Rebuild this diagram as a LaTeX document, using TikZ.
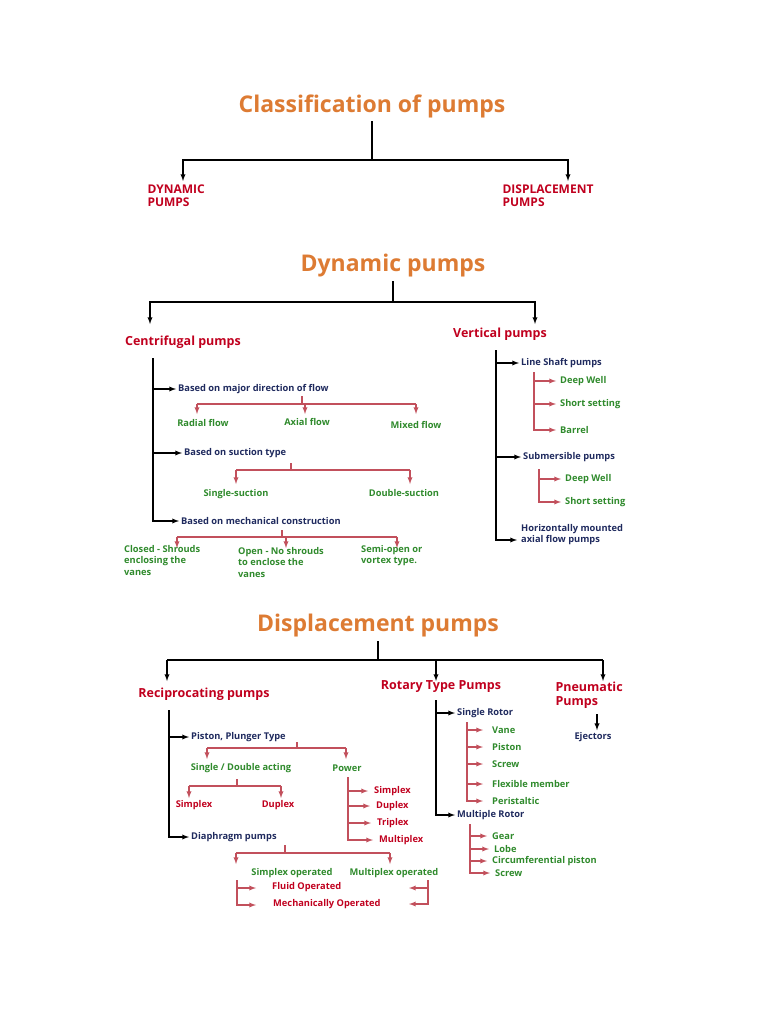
\documentclass[tikz,border=0pt]{standalone}
\usepackage{fontspec}
\setmainfont{Open Sans}
\usetikzlibrary{arrows}
\definecolor{ttlorange}{HTML}{DD7B33}
\definecolor{hdred}{HTML}{C0001E}
\definecolor{navy}{HTML}{1F2A5E}
\definecolor{leaf}{HTML}{2F8A2C}
\definecolor{arrred}{HTML}{C2505C}
\tikzset{
  ttl/.style={font=\fontsize{23}{26}\selectfont\bfseries, text=ttlorange},
  hd/.style={font=\fontsize{12.5}{14}\selectfont\bfseries, text=hdred, align=left},
  nv/.style={font=\fontsize{9.3}{11.5}\selectfont\bfseries, text=navy, align=left, inner sep=2pt},
  gr/.style={font=\fontsize{9.3}{11.5}\selectfont\bfseries, text=leaf, align=left, inner sep=2pt},
  rd/.style={font=\fontsize{9.3}{11.5}\selectfont\bfseries, text=hdred, inner sep=2pt},
  blk/.style={line width=1.3pt, -latex, black},
  bl/.style={line width=1.3pt, black},
  rarr/.style={line width=1.3pt, -latex, arrred},
  rl/.style={line width=1.3pt, arrred}
}
\begin{document}
\begin{tikzpicture}[x=1pt,y=-1pt]
\useasboundingbox (0,0) rectangle (768,1024);

% classification
\node[ttl] (cls) at (372,106) {Classification of pumps};
\node[hd, anchor=north west, font=\fontsize{12}{13}\selectfont\bfseries] (dyn) at (144,181) {DYNAMIC\\PUMPS};
\node[hd, anchor=north west, font=\fontsize{12}{13}\selectfont\bfseries] (dsp) at (499,181) {DISPLACEMENT\\PUMPS};
\coordinate (c0) at (372,160);
\draw[bl] (cls.south) -- (c0);
\draw[blk] (c0) -| (183,181);
\draw[blk] (c0) -| (568,181);

% dynamic pumps
\node[ttl] (dp) at (393,266) {Dynamic pumps};
\node[hd] (cf) at (183,342) {Centrifugal pumps};
\node[hd] (vp) at (500,334) {Vertical pumps};
\coordinate (c1) at (393,302);
\draw[bl] (dp.south) -- (c1);
\draw[blk] (c1) -| (150,324);
\draw[blk] (c1) -| (535,324);

% centrifugal
\node[nv, anchor=west] (b1) at (176,389) {Based on major direction of flow};
\node[nv, anchor=west] (b2) at (182,453) {Based on suction type};
\node[nv, anchor=west] (b3) at (179,521) {Based on mechanical construction};
\coordinate (ct) at (153,358);
\draw[bl] (ct) -- (153,521);
\foreach \n in {b1,b2,b3} \draw[blk] (ct) |- (\n.west);

\node[gr] (rf) at (203,423) {Radial flow};
\node[gr] (af) at (307,422) {Axial flow};
\node[gr] (mf) at (416,425) {Mixed flow};
\draw[rl] (302,396) -- (302,404);
\draw[rl] (197,404) -- (416,404);
\foreach \x in {197,305,416} \draw[rarr] (\x,404) -- (\x,414);

\node[gr] (ss) at (236,494) {Single-suction};
\node[gr] (ds) at (404,493) {Double-suction};
\draw[rl] (291,463) -- (291,470);
\draw[rl] (236,470) -- (410,470);
\foreach \x in {236,410} \draw[rarr] (\x,470) -- (\x,484);

\node[gr, anchor=north west] (cl) at (122,543) {Closed - Shrouds\\enclosing the\\vanes};
\node[gr, anchor=north west] (op) at (236,545) {Open - No shrouds\\to enclose the\\vanes};
\node[gr, anchor=north west] (so) at (359,543) {Semi-open or\\vortex type.};
\draw[rl] (282,530) -- (282,537);
\draw[rl] (177,537) -- (397,537);
\foreach \x in {177,286,397} \draw[rarr] (\x,537) -- (\x,548);

% vertical
\node[nv, anchor=west] (ls) at (519,363) {Line Shaft pumps};
\node[nv, anchor=west] (sb) at (521,457) {Submersible pumps};
\node[nv, anchor=north west] (hz) at (519,522) {Horizontally mounted\\axial flow pumps};
\coordinate (vt) at (496,350);
\draw[bl] (vt) -- (496,540);
\draw[blk] (vt) |- (ls.west);
\draw[blk] (vt) |- (sb.west);
\draw[blk] (vt) |- (517,540);

\node[gr, anchor=west] (dw1) at (558,381) {Deep Well};
\node[gr, anchor=west] (st1) at (558,404) {Short setting};
\node[gr, anchor=west] (br) at (558,430) {Barrel};
\coordinate (lt) at (534,372);
\foreach \n in {dw1,st1,br} \draw[rarr] (lt) |- ([xshift=-2pt]\n.west);

\node[gr, anchor=west] (dw2) at (563,479) {Deep Well};
\node[gr, anchor=west] (st2) at (563,502) {Short setting};
\coordinate (st) at (539,469);
\foreach \n in {dw2,st2} \draw[rarr] (st) |- ([xshift=-2pt]\n.west);

% displacement pumps
\node[ttl] (xp) at (378,626) {Displacement pumps};
\node[hd] (rc) at (204,694) {Reciprocating pumps};
\node[hd] (rt) at (441,687) {Rotary Type Pumps};
\node[hd, anchor=north west] (pn) at (552,678) {Pneumatic\\Pumps};
\node[nv] (ej) at (593,737) {Ejectors};
\coordinate (c2) at (378,660);
\coordinate (ejt) at (597,714);
\draw[bl] (xp.south) -- (c2);
\draw[blk] (167,660) -- (167,681);
\draw[bl] (167,660) -- (603,660);
\draw[blk] (436,660) -- (436,681);
\draw[blk] (603,660) -- (603,681);
\draw[blk] (ejt) -- (ejt |- ej.north);

% reciprocating
\node[nv, anchor=west] (pp) at (189,737) {Piston, Plunger Type};
\node[nv, anchor=west] (dg) at (189,837) {Diaphragm pumps};
\coordinate (rct) at (169,710);
\draw[blk] (rct) |- (pp.west);
\draw[blk] (rct) |- (dg.west);

\node[gr] (sd) at (241,768) {Single / Double acting};
\node[gr] (pw) at (347,768) {Power};
\draw[rl] (297,742) -- (297,748);
\draw[rl] (207,748) -- (346,748);
\foreach \x in {207,346} \draw[rarr] (\x,748) -- (\x,759);

\node[rd] (sx1) at (194,805) {Simplex};
\node[rd] (dx1) at (278,805) {Duplex};
\draw[rl] (237,779) -- (237,786);
\draw[rl] (189,786) -- (281,786);
\foreach \x in {189,281} \draw[rarr] (\x,786) -- (\x,798);

\node[rd, anchor=west] (sx2) at (372,791) {Simplex};
\node[rd, anchor=west] (dx2) at (374,806) {Duplex};
\node[rd, anchor=west] (tx) at (375,823) {Triplex};
\node[rd, anchor=west] (mx) at (377,840) {Multiplex};
\coordinate (pwt) at (348,777);
\foreach \n in {sx2,dx2,tx,mx} \draw[rarr] (pwt) |- ([xshift=-4pt]\n.west);

\node[gr] (so1) at (292,873) {Simplex operated};
\node[gr] (mo) at (394,873) {Multiplex operated};
\draw[rl] (285,845) -- (285,853);
\draw[rl] (236,853) -- (390,853);
\foreach \x in {236,390} \draw[rarr] (\x,853) -- (\x,864);

\node[rd, anchor=west] (fo) at (270,887) {Fluid Operated};
\node[rd, anchor=west] (mo2) at (271,904) {Mechanically Operated};
\coordinate (sot) at (237,880);
\coordinate (mot) at (428,880);
\draw[rarr] (sot) |- (256,888);
\draw[rarr] (sot) |- (256,905);
\draw[rarr] (mot) |- (409,888);
\draw[rarr] (mot) |- (409,904);

% rotary
\node[nv, anchor=west] (sr) at (455,713) {Single Rotor};
\node[nv, anchor=west] (mr) at (455,815) {Multiple Rotor};
\coordinate (rtt) at (436,700);
\draw[blk] (rtt) |- (sr.west);
\draw[blk] (rtt) |- (mr.west);

\coordinate (srt) at (467,722);
\foreach \t/\y in {Vane/730,Piston/747,Screw/764,Flexible member/784,Peristaltic/801}
  \node[gr, anchor=west] (s\y) at (490,\y) {\t};
\foreach \y in {730,747,764,784,801} \draw[rarr] (srt) |- (483,\y);

\coordinate (mrt) at (470,824);
\node[gr, anchor=west] (gr) at (490,836) {Gear};
\node[gr, anchor=west] (lb) at (492,849) {Lobe};
\node[gr, anchor=west] (cp) at (490,861) {Circumferential piston};
\node[gr, anchor=west] (sc) at (493,873) {Screw};
\foreach \n in {gr,lb,cp,sc} \draw[rarr] (mrt) |- ([xshift=-3pt]\n.west);

\end{tikzpicture}
\end{document}
